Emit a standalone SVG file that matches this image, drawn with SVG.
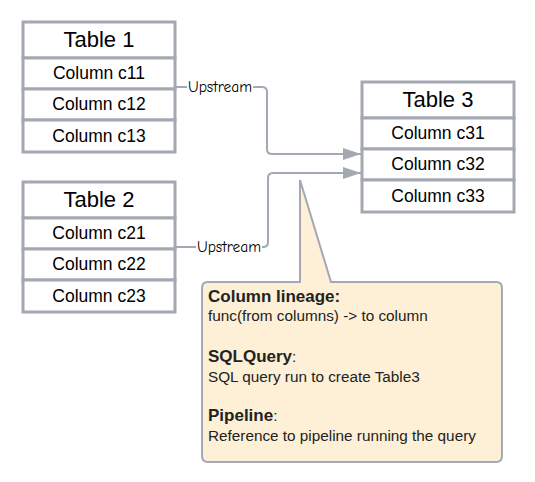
<svg xmlns="http://www.w3.org/2000/svg" width="535" height="482" viewBox="0 0 535 482">
<style>
.box{fill:#fff;stroke:#a3a8b2;stroke-width:3}
.title{font-family:"Liberation Sans",Arial,sans-serif;font-size:22px;fill:#000;text-anchor:middle}
.col{font-family:"Liberation Sans",Arial,sans-serif;font-size:17.5px;fill:#000;text-anchor:middle}
.conn{fill:none;stroke:#a3a8b2;stroke-width:2}
.lbl{font-family:"Comic Neue","Comic Sans MS","DejaVu Sans Condensed",sans-serif;font-size:15.5px;fill:#000;text-anchor:middle}
.note{fill:#fdf0d6;stroke:#a3a8b2;stroke-width:2}
.nb{font-family:"Liberation Sans",Arial,sans-serif;font-size:17px;font-weight:bold;fill:#222}
.nt{font-family:"Liberation Sans",Arial,sans-serif;font-size:15.3px;fill:#222}
</style>
<defs>
<marker id="ah" markerWidth="18" markerHeight="12" refX="18" refY="6" orient="auto" markerUnits="userSpaceOnUse">
<path d="M0,0 L18,6 L0,12 Z" fill="#a3a8b2"/>
</marker>
</defs>
<g id="table1">
<rect class="box" x="23" y="22" width="152" height="36"/>
<rect class="box" x="23" y="58" width="152" height="31"/>
<rect class="box" x="23" y="89" width="152" height="31"/>
<rect class="box" x="23" y="120" width="152" height="32"/>
<text class="title" x="99" y="47">Table 1</text>
<text class="col" x="99" y="79">Column c11</text>
<text class="col" x="99" y="110">Column c12</text>
<text class="col" x="99" y="142">Column c13</text>
</g>
<g id="table2">
<rect class="box" x="23" y="182" width="152" height="36"/>
<rect class="box" x="23" y="218" width="152" height="31"/>
<rect class="box" x="23" y="249" width="152" height="31"/>
<rect class="box" x="23" y="280" width="152" height="32"/>
<text class="title" x="99" y="207">Table 2</text>
<text class="col" x="99" y="239">Column c21</text>
<text class="col" x="99" y="270">Column c22</text>
<text class="col" x="99" y="302">Column c23</text>
</g>
<g id="table3">
<rect class="box" x="362" y="82" width="152" height="36"/>
<rect class="box" x="362" y="118" width="152" height="31"/>
<rect class="box" x="362" y="149" width="152" height="31"/>
<rect class="box" x="362" y="180" width="152" height="32"/>
<text class="title" x="438" y="107">Table 3</text>
<text class="col" x="438" y="139">Column c31</text>
<text class="col" x="438" y="170">Column c32</text>
<text class="col" x="438" y="202">Column c33</text>
</g>
<g id="connectors">
<path class="conn" d="M176,87 H187 M253,87 H262 Q267,87 267,92 V149 Q267,154 272,154 H361" marker-end="url(#ah)"/>
<path class="conn" d="M176,247 H196 M262,247 H263 Q268,247 268,242 V178 Q268,173 273,173 H361" marker-end="url(#ah)"/>
<text class="lbl" x="220" y="92">Upstream</text>
<text class="lbl" x="229" y="252">Upstream</text>
</g>
<g id="note">
<path class="note" d="M208,282 H300 L300,180 L331,282 H496 Q502,282 502,288 V456 Q502,462 496,462 H208 Q202,462 202,456 V288 Q202,282 208,282 Z"/>
<text class="nb" x="208" y="302">Column lineage:</text>
<text class="nt" x="208" y="321">func(from columns) -&gt; to column</text>
<text x="208" y="362"><tspan class="nb">SQLQuery</tspan><tspan class="nt" font-size="17">:</tspan></text>
<text class="nt" x="208" y="382">SQL query run to create Table3</text>
<text x="208" y="421"><tspan class="nb">Pipeline</tspan><tspan class="nt" font-size="17">:</tspan></text>
<text class="nt" x="208" y="441">Reference to pipeline running the query</text>
</g>
</svg>
